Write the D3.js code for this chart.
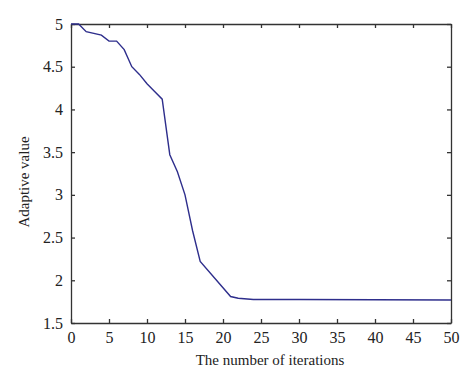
<!DOCTYPE html>
<html>
<head>
<meta charset="utf-8">
<title>Adaptive value</title>
<script src="https://d3js.org/d3.v7.min.js"></script>
<style>
  body { margin: 0; background: #fff; }
  svg text { font-family: "Liberation Serif", "DejaVu Serif", serif !important; fill: #222; }
</style>
</head>
<body>
<div id="chart"></div>
<script>
// values
const iterations = [0, 1, 2, 4, 5, 6, 7, 8, 9, 10, 11, 12, 13, 14, 15, 16, 17, 21, 22, 24, 30, 40, 50];
const adaptive   = [5.0, 5.0, 4.91, 4.87, 4.80, 4.80, 4.70, 4.50, 4.41, 4.30, 4.21, 4.12, 3.47, 3.27, 3.0, 2.58, 2.22, 1.81, 1.79, 1.775, 1.775, 1.773, 1.77];
const xTicks = [0, 5, 10, 15, 20, 25, 30, 35, 40, 45, 50];
const yTicks = [1.5, 2, 2.5, 3, 3.5, 4, 4.5, 5];

const width = 474, height = 387;
const margin = {top: 24, right: 23, bottom: 64, left: 71};
const w = width - margin.left - margin.right;
const h = height - margin.top - margin.bottom;

const svg = d3.select("#chart").append("svg")
    .attr("width", width)
    .attr("height", height);

const g = svg.append("g")
    .attr("transform", `translate(${margin.left},${margin.top})`);

const x = d3.scaleLinear().domain([0, 50]).range([0, w]);
const y = d3.scaleLinear().domain([1.5, 5]).range([h, 0]);

const fmt = d => String(d);

// bottom + left axes with labels, ticks pointing inward
g.append("g")
    .attr("transform", `translate(0,${h})`)
    .call(d3.axisBottom(x).tickValues(xTicks).tickFormat(fmt).tickSizeInner(-4).tickSizeOuter(0).tickPadding(9));
g.append("g")
    .call(d3.axisLeft(y).tickValues(yTicks).tickFormat(fmt).tickSizeInner(-4).tickSizeOuter(0).tickPadding(8));

// mirrored top + right axes, ticks only
g.append("g")
    .call(d3.axisTop(x).tickValues(xTicks).tickFormat("").tickSizeInner(-4).tickSizeOuter(0));
g.append("g")
    .attr("transform", `translate(${w},0)`)
    .call(d3.axisRight(y).tickValues(yTicks).tickFormat("").tickSizeInner(-4).tickSizeOuter(0));

g.selectAll("g")
    .attr("font-family", "Liberation Serif")
    .attr("font-size", 16);
g.selectAll(".domain, .tick line")
    .attr("stroke", "#333")
    .attr("stroke-width", 1.3);
g.selectAll(".tick text")
    .attr("fill", "#222");

// data line
const line = d3.line()
    .x((d, i) => x(iterations[i]))
    .y(d => y(d));

g.append("path")
    .datum(adaptive)
    .attr("fill", "none")
    .attr("stroke", "#2e2e8c")
    .attr("stroke-width", 1.4)
    .attr("d", line);

// axis titles
svg.append("text")
    .attr("x", 270)
    .attr("y", 365)
    .attr("text-anchor", "middle")
    .style("font-size", "15px")
    .text("The number of iterations");

svg.append("text")
    .attr("transform", "translate(29,182) rotate(-90)")
    .attr("text-anchor", "middle")
    .style("font-size", "15px")
    .text("Adaptive value");
</script>
</body>
</html>
